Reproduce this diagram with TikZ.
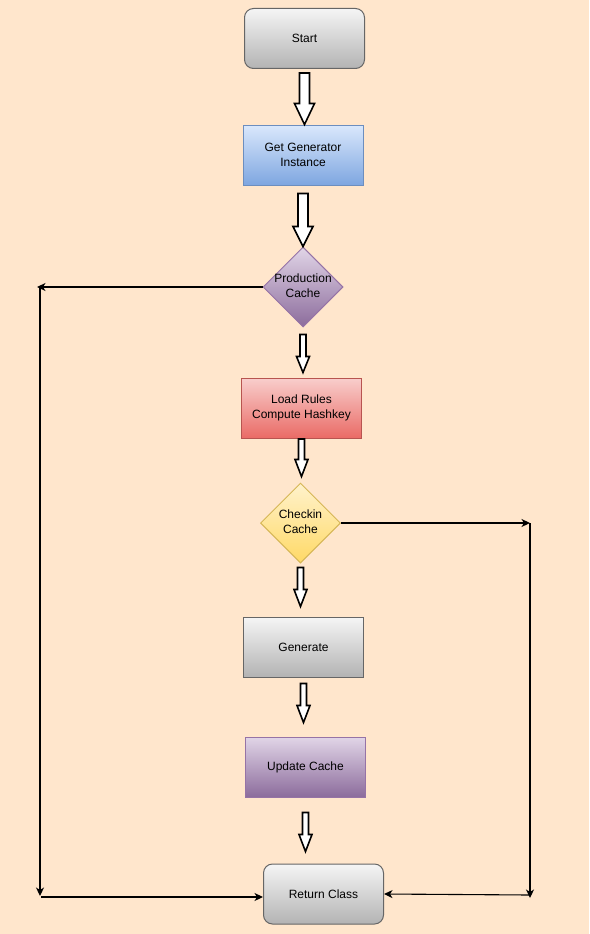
\documentclass[tikz,border=0pt]{standalone}
\usepackage{fontspec}
\setmainfont{Liberation Sans}
\usetikzlibrary{shapes.geometric,arrows.meta,calc}
\definecolor{bg}{HTML}{FFE6CC}
\definecolor{grayT}{HTML}{F5F5F5}\definecolor{grayB}{HTML}{B3B3B3}\definecolor{grayS}{HTML}{666666}
\definecolor{blueT}{HTML}{DAE8FC}\definecolor{blueB}{HTML}{7EA6E0}\definecolor{blueS}{HTML}{6C8EBF}
\definecolor{purT}{HTML}{E1D5E7}\definecolor{purB}{HTML}{8C6C9C}\definecolor{purS}{HTML}{9673A6}
\definecolor{redT}{HTML}{F8CECC}\definecolor{redB}{HTML}{EA6B66}\definecolor{redS}{HTML}{B85450}
\definecolor{yelT}{HTML}{FFF2CC}\definecolor{yelB}{HTML}{FFD966}\definecolor{yelS}{HTML}{D6B656}
\tikzset{
  box/.style={rectangle, minimum width=120pt, minimum height=60pt, inner sep=0pt, line width=1pt, align=center},
  rbox/.style={box, rounded corners=9pt},
  dia/.style={diamond, minimum width=80pt, minimum height=80pt, inner sep=0pt, line width=1pt},
  lbl/.style={align=center, inner sep=0pt},
  grayfill/.style={draw=grayS, top color=grayT, bottom color=grayB},
  bluefill/.style={draw=blueS, top color=blueT, bottom color=blueB},
  purfill/.style={draw=purS, top color=purT, bottom color=purB},
  redfill/.style={draw=redS, top color=redT, bottom color=redB},
  yelfill/.style={draw=yelS, top color=yelT, bottom color=yelB},
  ln/.style={line width=1.1pt, -{Stealth[length=8.5pt,width=8pt,inset=2.5pt]}},
  blk/.style={draw=black, fill=white, line width=1.6pt, line join=miter}
}
% from, to, gap at source, gap at target, shaft half width, head half width, head length
\newcommand\blockarr[7]{%
  \draw[blk] let \p1=(#1.south), \p2=(#2.north) in
    (\x1-#5,\y1-#3) -- (\x1+#5,\y1-#3) -- (\x1+#5,\y2+#4+#7) -- (\x1+#6,\y2+#4+#7)
    -- (\x1,\y2+#4) -- (\x1-#6,\y2+#4+#7) -- (\x1-#5,\y2+#4+#7) -- cycle;}
\begin{document}
\begin{tikzpicture}[x=1pt, y=-1pt, font=\fontsize{12}{15}\selectfont]
\fill[bg] (0,0) rectangle (589,934);
\useasboundingbox (0,0) rectangle (589,934);

\node[rbox, grayfill] (start) at (304.5,38.5) {Start};
\node[box, bluefill] (ggi) at (303,155) {Get Generator\\Instance};
\node[dia, purfill] (prod) at (303,287) {};
\node[lbl] (prodtxt) at (303,285.5) {Production\\Cache};
\node[box, redfill] (load) at (301.5,408) {Load Rules\\Compute Hashkey};
\node[dia, yelfill] (chk) at (300.5,523) {};
\node[lbl] (chktxt) at (300.5,522) {Checkin\\Cache};
\node[box, grayfill] (gen) at (303.5,647) {Generate};
\node[box, purfill] (upd) at (305.5,767) {Update Cache};
\node[rbox, grayfill] (ret) at (323.5,894) {Return Class};

\blockarr{start}{ggi}{4pt}{0pt}{5pt}{10pt}{21pt}
\blockarr{ggi}{prod}{8pt}{0pt}{5pt}{10pt}{20pt}
\blockarr{prod}{load}{7pt}{5pt}{3pt}{6.5pt}{16pt}
\blockarr{load}{chk}{0.5pt}{6pt}{3pt}{6.5pt}{17pt}
\blockarr{chk}{gen}{4pt}{10pt}{3pt}{6.5pt}{17pt}
\blockarr{gen}{upd}{6pt}{14pt}{3pt}{6.5pt}{17pt}
\blockarr{upd}{ret}{15pt}{12pt}{3pt}{6.5pt}{17pt}

% left side loop
\coordinate (ltip) at (37,287);
\coordinate (ltop) at (40,287);
\coordinate (lbot) at (40,896);
\coordinate (lstart) at (41,897);
\draw[ln] (prod.west) -- (ltip);
\draw[ln] (ltop) -- (lbot);
\draw[ln] (lstart) -- (ret.west |- lstart);

% right side loop
\coordinate (rtip) at (530,523);
\coordinate (rtop) at (530,523);
\coordinate (rbot) at (530,898);
\coordinate (rstart) at (530,895);
\draw[ln] (chk.east) -- (rtip);
\draw[ln] (rtop) -- (rbot);
\draw[ln] (rstart) -- (ret.east);
\end{tikzpicture}
\end{document}
